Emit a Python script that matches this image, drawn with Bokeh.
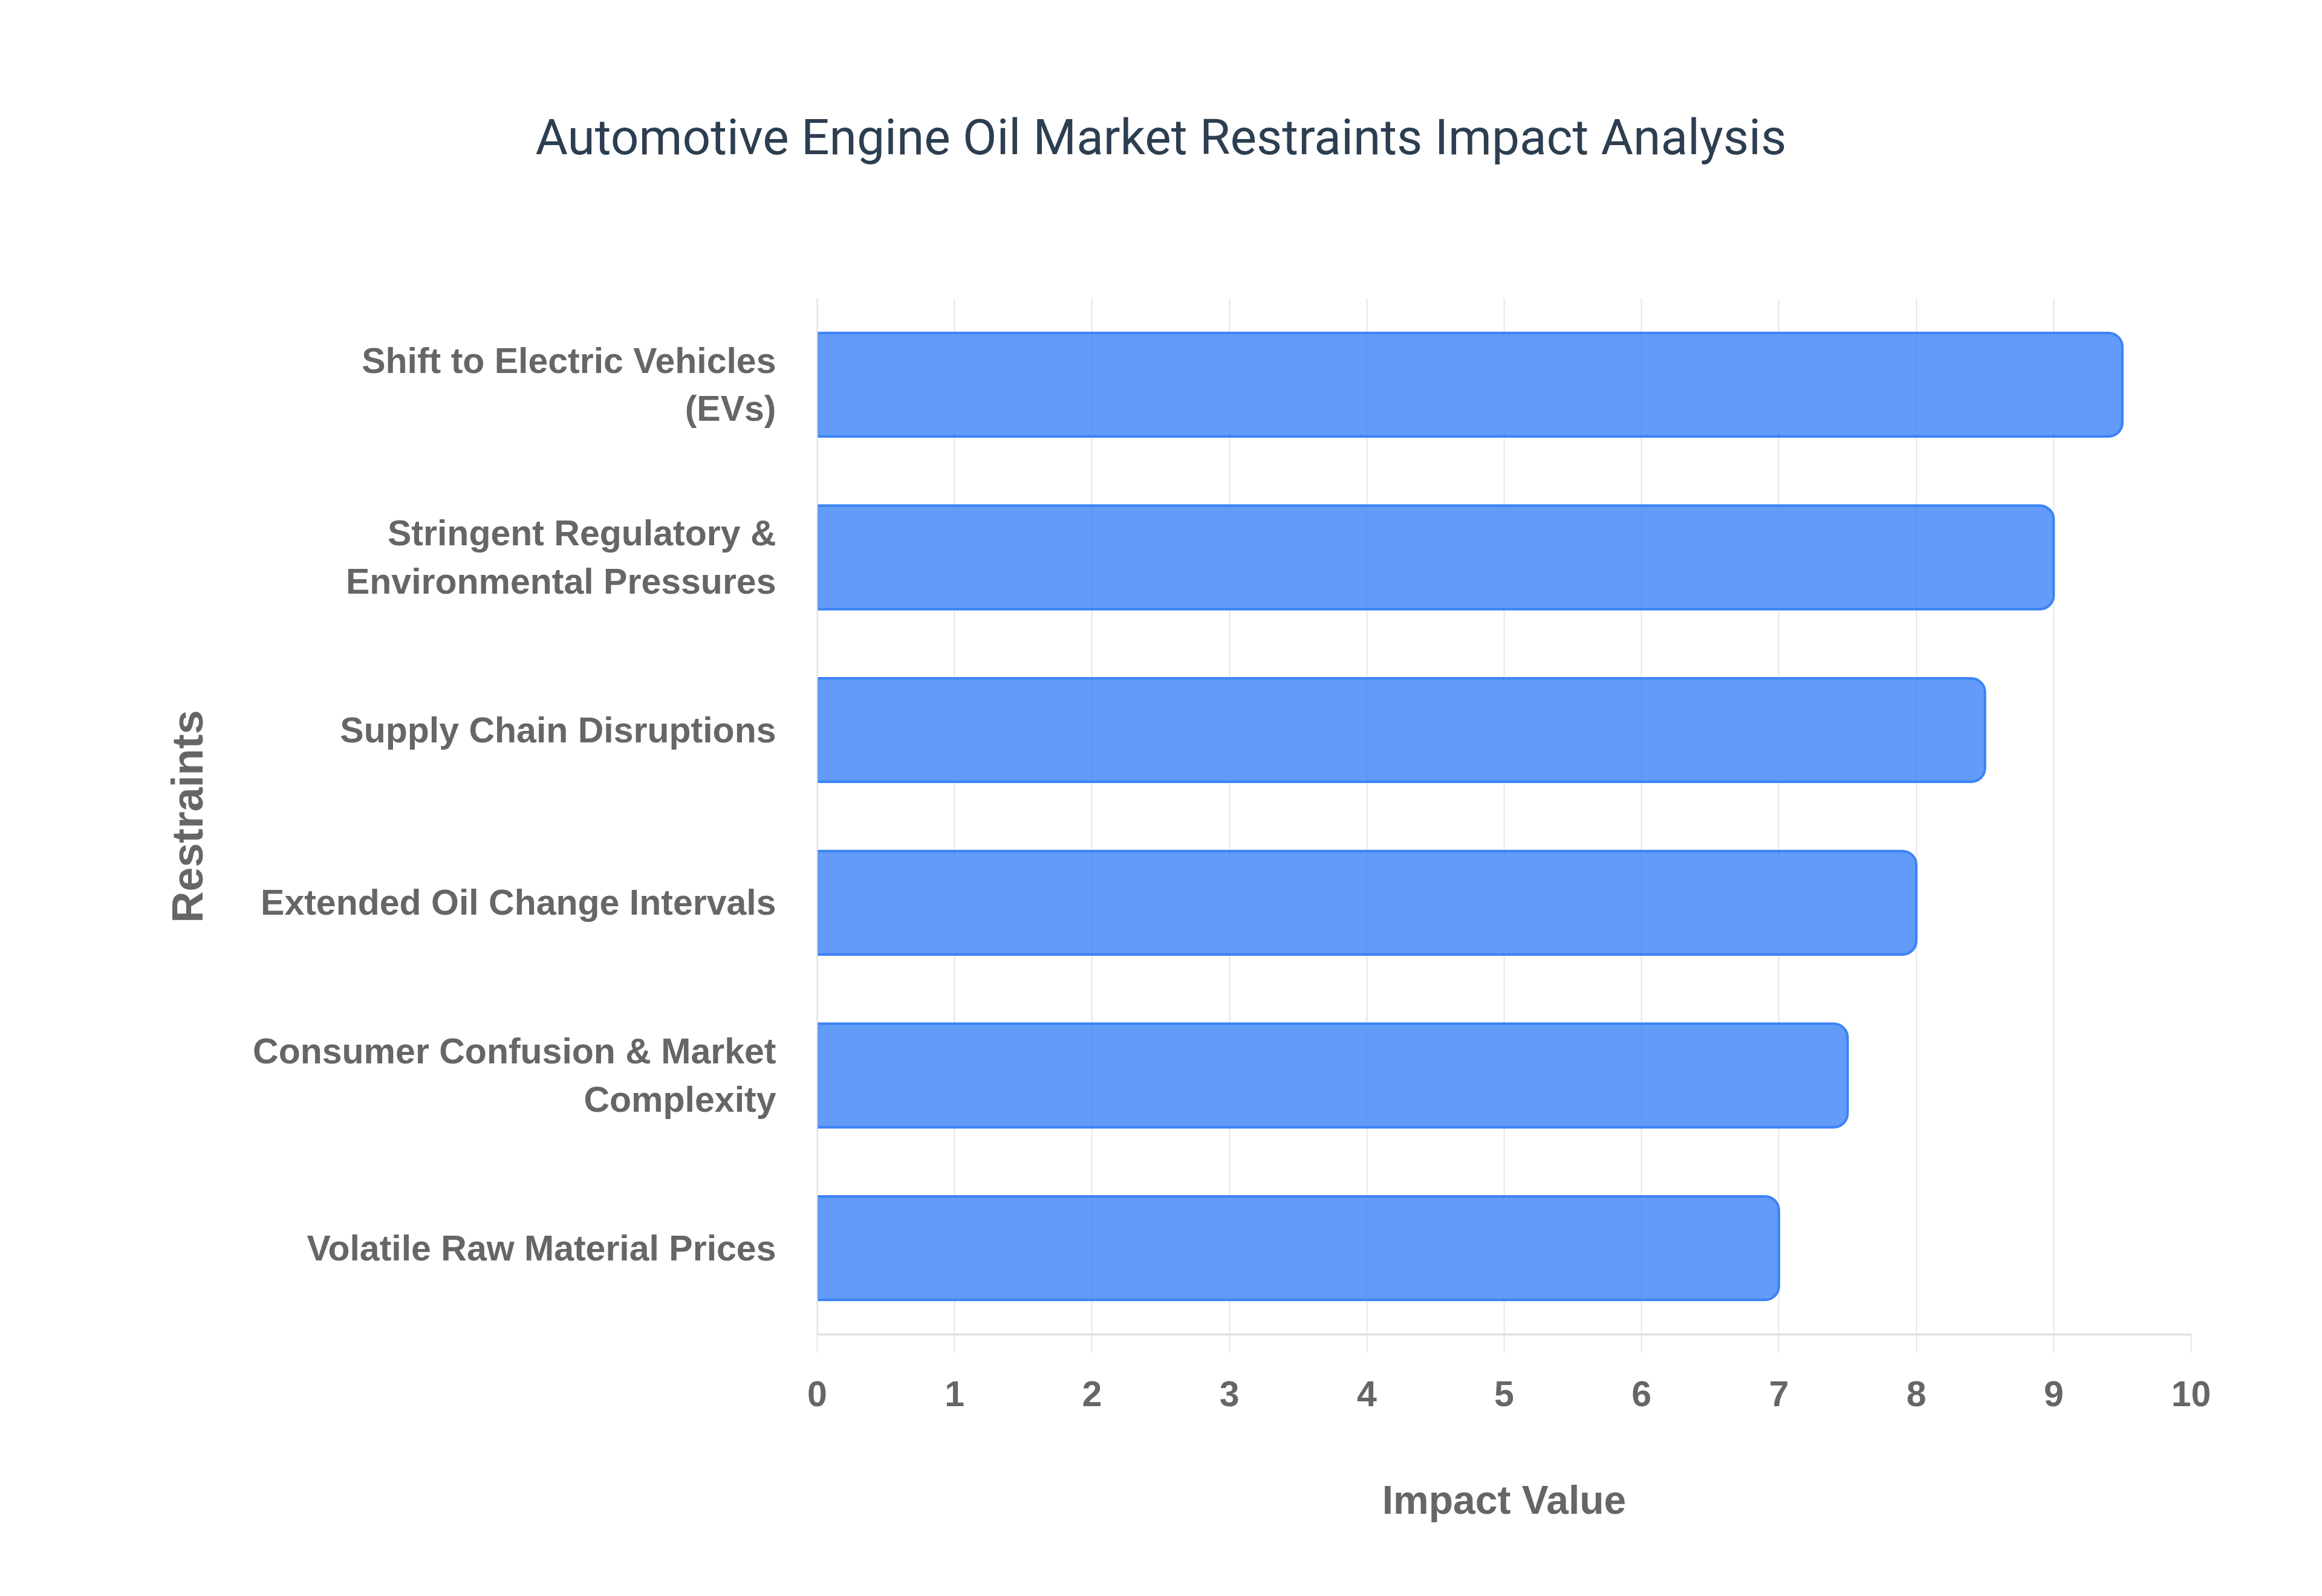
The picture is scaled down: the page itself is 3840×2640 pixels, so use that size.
from bokeh.plotting import figure
from bokeh.models import FactorRange, Range1d, FixedTicker, Title
from bokeh.embed import file_html
from bokeh.resources import INLINE

# data, top to bottom as shown
restraints = [
    "Shift to Electric Vehicles\n(EVs)",
    "Stringent Regulatory &\nEnvironmental Pressures",
    "Supply Chain Disruptions",
    "Extended Oil Change Intervals",
    "Consumer Confusion & Market\nComplexity",
    "Volatile Raw Material Prices",
]
impact_values = [9.5, 9.0, 8.5, 8.0, 7.5, 7.0]
x_ticks = [0, 1, 2, 3, 4, 5, 6, 7, 8, 9, 10]

title_text = "Automotive Engine Oil Market Restraints Impact Analysis"
TICK_FONT = "Liberation Sans"
GRAY = "#666666"

p = figure(
    width=3820, height=2620,
    y_range=FactorRange(factors=list(reversed(restraints))),
    x_range=Range1d(0, 10),
    output_backend="svg", toolbar_location=None,
    min_border_left=1351, min_border_right=197,
    min_border_top=489, min_border_bottom=413,
)
p.outline_line_color = None
p.background_fill_color = "white"
p.border_fill_color = "white"

# empty spacer between frame and title, then the title itself
p.add_layout(Title(text=" ", text_font_size="1px", standoff=40), "above")
p.add_layout(Title(text=title_text, align="left", offset=-466, standoff=352,
                   text_font="Roboto", text_font_style="normal",
                   text_font_size="82px", text_color="#2c3e50"), "above")

p.hbar(y=restraints, right=impact_values, left=0, height=0.6,
       fill_color="#3b82f6", fill_alpha=0.8,
       line_color="#3b82f6", line_width=4,
       border_radius=(0, 23, 23, 0))

# x axis
xa = p.xaxis[0]
xa.ticker = FixedTicker(ticks=x_ticks)
xa.minor_tick_line_color = None
xa.major_tick_in = 0
xa.major_tick_out = 30
xa.major_tick_line_color = "#e5e5e5"
xa.major_tick_line_width = 2
xa.axis_line_color = "#dddddd"
xa.axis_line_width = 3
xa.major_label_text_font = TICK_FONT
xa.major_label_text_font_style = "bold"
xa.major_label_text_font_size = "59px"
xa.major_label_text_color = GRAY
xa.major_label_standoff = 47
xa.axis_label = "Impact Value"
xa.axis_label_text_font = TICK_FONT
xa.axis_label_text_font_style = "bold"
xa.axis_label_text_font_size = "66px"
xa.axis_label_text_color = GRAY
xa.axis_label_standoff = 115

# y axis
ya = p.yaxis[0]
ya.major_tick_line_color = None
ya.minor_tick_line_color = None
ya.axis_line_color = "#dddddd"
ya.axis_line_width = 2
ya.major_label_text_font = TICK_FONT
ya.major_label_text_font_style = "bold"
ya.major_label_text_font_size = "59px"
ya.major_label_text_color = GRAY
ya.major_label_standoff = 62
ya.axis_label = "Restraints"
ya.axis_label_text_font = TICK_FONT
ya.axis_label_text_font_style = "bold"
ya.axis_label_text_font_size = "72px"
ya.axis_label_text_color = GRAY
ya.axis_label_standoff = 65

p.xgrid.grid_line_color = "#e5e5e5"
p.xgrid.grid_line_width = 2
p.ygrid.grid_line_color = None

open("out.html", "w").write(file_html(p, INLINE))
